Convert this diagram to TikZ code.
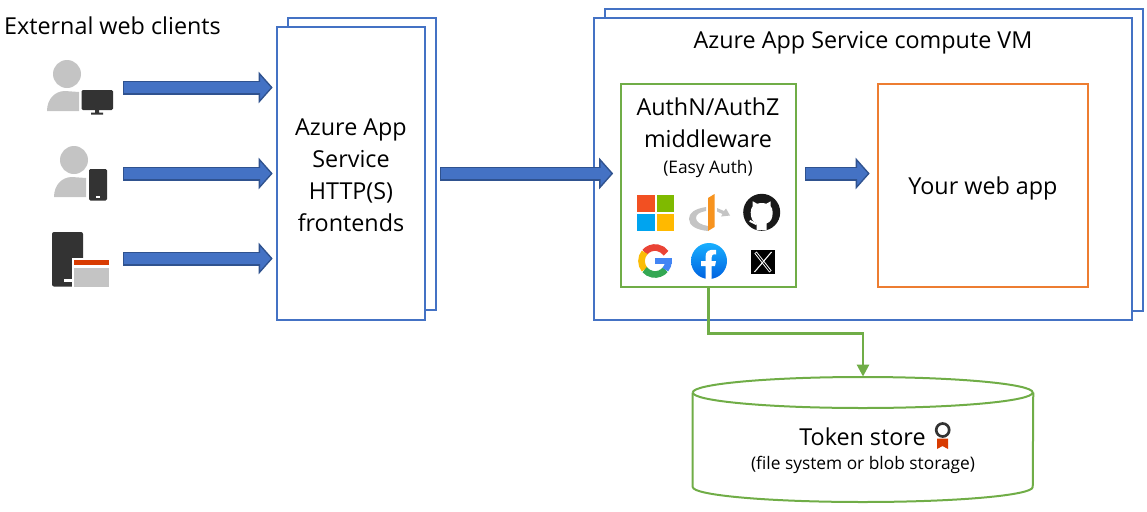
\documentclass[tikz,border=0pt]{standalone}
\usepackage{fontspec}
\setmainfont{Open Sans}
\usetikzlibrary{arrows.meta}
\definecolor{azblue}{HTML}{4472C4}
\definecolor{azedge}{HTML}{2F528F}
\definecolor{azgreen}{HTML}{70AD47}
\definecolor{azorange}{HTML}{ED7D31}
\definecolor{icondark}{HTML}{333333}
\definecolor{icongrey}{HTML}{C4C4C4}
\definecolor{iconred}{HTML}{D83B01}
\definecolor{msred}{HTML}{F25022}
\definecolor{msgreen}{HTML}{7FBA00}
\definecolor{msblue}{HTML}{00A4EF}
\definecolor{msyellow}{HTML}{FFB900}
\definecolor{gred}{HTML}{EA4335}
\definecolor{gyellow}{HTML}{FBBC05}
\definecolor{ggreen}{HTML}{34A853}
\definecolor{gblue}{HTML}{4285F4}
\definecolor{fbtop}{HTML}{18AFFF}
\definecolor{fbbottom}{HTML}{0062E0}
\definecolor{oidorange}{HTML}{F7931E}
\tikzset{
    bluebox/.style={rectangle, draw=azblue, fill=white, line width=1.5pt, inner sep=0pt},
    label/.style={align=center, inner sep=0pt, font=\fontsize{17.5}{24}\selectfont},
    small/.style={align=center, inner sep=0pt, font=\fontsize{13}{16}\selectfont},
    pics/person/.style={code={
        \fill[icongrey] (0,0) circle (14);
        \fill[icongrey] (-20,37) .. controls (-20,25) and (-12,17) .. (-2,17) -- (12,18) -- (12,37) -- cycle;
    }}
}
% block arrow: from, to, gap at start, gap at end
\newcommand{\blockarrow}[4]{
    \draw[azedge, line width=10.5pt, shorten <=#3, shorten >=#4, -{Triangle[length=10.5pt, width=23.5pt, line width=1pt, fill=azblue]}] (#1) -- (#2);
    \draw[azblue, line width=8.5pt, shorten <=#3+0.8pt, shorten >=#4+8pt] (#1) -- (#2);
}
\begin{document}
\begin{tikzpicture}[x=0.75pt, y=-0.75pt]
    \useasboundingbox (0,0) rectangle (1147,511);

    \node[label, name=clients] at (112.5,25.5) {External web clients};

    % frontends
    \node[bluebox, minimum width=111pt, minimum height=219pt, name=frontback] at (362,164) {};
    \node[bluebox, minimum width=111pt, minimum height=220pt, name=frontend] at (351,173.5) {};
    \node[label, name=frontendtext] at (351,175) {Azure App\\Service\\HTTP(S)\\frontends};

    % compute VM
    \node[bluebox, minimum width=403.5pt, minimum height=226pt, name=vmback] at (874,160) {};
    \node[bluebox, minimum width=403.5pt, minimum height=226.5pt, name=vm] at (863,169) {};
    \node[label, name=vmtitle] at (863,42.5) {Azure App Service compute VM};

    \node[rectangle, draw=azgreen, line width=1.5pt, minimum width=131.5pt, minimum height=152.5pt, inner sep=0pt, name=auth] at (708.5,185.5) {};
    \node[label, name=authtitle] at (708,123) {AuthN/AuthZ\\middleware};
    \node[small, name=easyauth] at (708,168.5) {(Easy Auth)};

    \node[rectangle, draw=azorange, line width=1.5pt, minimum width=157.5pt, minimum height=152.5pt, inner sep=0pt, name=app] at (983,185.5) {};
    \node[label, name=apptext] at (983,188) {Your web app};

    % token store
    \node[minimum width=255pt, minimum height=94pt, inner sep=0pt, name=store] at (863,439.5) {};
    \draw[azgreen, line width=1.5pt] (store.west |- 0,392.5) arc[start angle=180, end angle=-180, x radius=170, y radius=15.5];
    \draw[azgreen, line width=1.5pt] (store.west |- 0,392.5) -- (store.west |- 0,487) arc[start angle=180, end angle=0, x radius=170, y radius=15] -- (store.east |- 0,392.5);
    \node[label, name=token] at (862.5,436.5) {Token store};
    \node[small, name=storage] at (863,465) {(file system or blob storage)};

    % arrows
    \coordinate (desktop) at (123,87.5);
    \coordinate (phone) at (123,173.5);
    \coordinate (browser) at (123,258.5);
    \blockarrow{desktop}{frontend.west |- desktop}{0pt}{2.5pt}
    \blockarrow{phone}{frontend.west |- phone}{0pt}{2.5pt}
    \blockarrow{browser}{frontend.west |- browser}{0pt}{2.5pt}
    \blockarrow{frontback.east |- phone}{auth.west |- phone}{2.5pt}{5pt}
    \blockarrow{auth.east |- phone}{app.west |- phone}{6pt}{5.5pt}
    \draw[azgreen, line width=2pt, -{Triangle[length=9pt, width=9pt]}] (auth.south) -- ++(0,45) -| (store.north);

    % client icons
    \pic at (67,74) {person};
    \fill[icondark, rounded corners=1pt] (81.5,90) rectangle (113,110);
    \fill[icondark] (95,110) rectangle (99,113) (91,112.5) rectangle (103,114.5);
    \pic at (74,160) {person};
    \fill[icondark, rounded corners=1pt] (89,169) rectangle (107,200.5);
    \fill[white] (95.5,195.5) rectangle (99.5,197.5);
    \fill[icondark, rounded corners=1.5pt] (52,232) rectangle (83,286.5);
    \fill[white] (72,258) rectangle (110,287.5);
    \fill[white] (64,279) rectangle (72,282);
    \fill[iconred] (74,260) rectangle (109,265);
    \fill[icongrey] (74,267.5) rectangle (109,286.5);

    % microsoft
    \fill[msred] (637,194.5) rectangle (654.5,212);
    \fill[msgreen] (656.5,194.5) rectangle (674,212);
    \fill[msblue] (637,214) rectangle (654.5,231);
    \fill[msyellow] (656.5,214) rectangle (674,231);

    % openid
    \fill[icongrey] (706,207) .. controls (694,209) and (689,213) .. (689,219) .. controls (689,226) and (697,230) .. (708,231) -- (708,226) .. controls (701,225) and (696,222) .. (696,218) .. controls (696,214) and (700,212) .. (706,211) -- cycle;
    \fill[oidorange] (708,198) -- (714.5,194) -- (714.5,227) -- (708,231) -- cycle;
    \fill[icongrey] (717,208) -- (724,211) -- (726,208.5) -- (730,215.5) -- (721,216.5) -- (722.5,214) -- (717,211.5) -- cycle;

    % github
    \begin{scope}[shift={(761.7,212.3)}]
        \fill[black!90] (0,0) circle (18.5);
        \fill[white] (-5,17.5) -- (-5,11) .. controls (-9,10) and (-11,6) .. (-11,0) .. controls (-11,-3) and (-10,-5) .. (-9,-6) -- (-9,-11) -- (-4.5,-8.5) .. controls (-2,-9.5) and (2,-9.5) .. (4.5,-8.5) -- (9,-11) -- (9,-6) .. controls (10,-5) and (11,-3) .. (11,0) .. controls (11,6) and (9,10) .. (5,11) -- (5,17.5) -- cycle;
        \draw[white, line width=1.5pt] (-5,12) -- (-12,8.5);
    \end{scope}

    % google
    \begin{scope}[shift={(655,261)}]
        \foreach \col/\from/\to in {gred/-140/-35, gyellow/140/220, ggreen/40/140, gblue/0/40}{
            \draw[\col, line width=5pt] (\from:13.5) arc[start angle=\from, end angle=\to, radius=13.5];
        }
        \fill[gblue] (0,-3.5) rectangle (17,3);
    \end{scope}

    % facebook
    \begin{scope}[shift={(709,261)}]
        \shade[top color=fbtop, bottom color=fbbottom] (0,0) circle (18);
        \fill[white] (-3.5,18) -- (-3.5,5) -- (-8,5) -- (-8,0) -- (-3.5,0) -- (-3.5,-4) .. controls (-3.5,-10) and (0,-12) .. (7,-11) -- (7,-6.5) .. controls (3.5,-7) and (2.5,-6) .. (2.5,-3) -- (2.5,0) -- (7,0) -- (6,5) -- (2.5,5) -- (2.5,18) -- cycle;
    \end{scope}

    % x
    \begin{scope}[shift={(763,262)}]
        \fill[black] (-12,-12) rectangle (12,12);
        \draw[white, line width=2.2pt] (-7.5,-9.5) -- (7.5,9.5);
        \draw[black, line width=0.8pt] (-7,-9) -- (7,9);
        \draw[white, line width=0.8pt] (8.5,-10) -- (-8.5,10);
    \end{scope}

    % token icon
    \draw[icondark, line width=2pt] (942.7,430) circle (6.5);
    \fill[iconred] (937,438.5) -- (948,438.5) -- (948,449) -- (942.5,446) -- (937,449) -- cycle;
\end{tikzpicture}
\end{document}
